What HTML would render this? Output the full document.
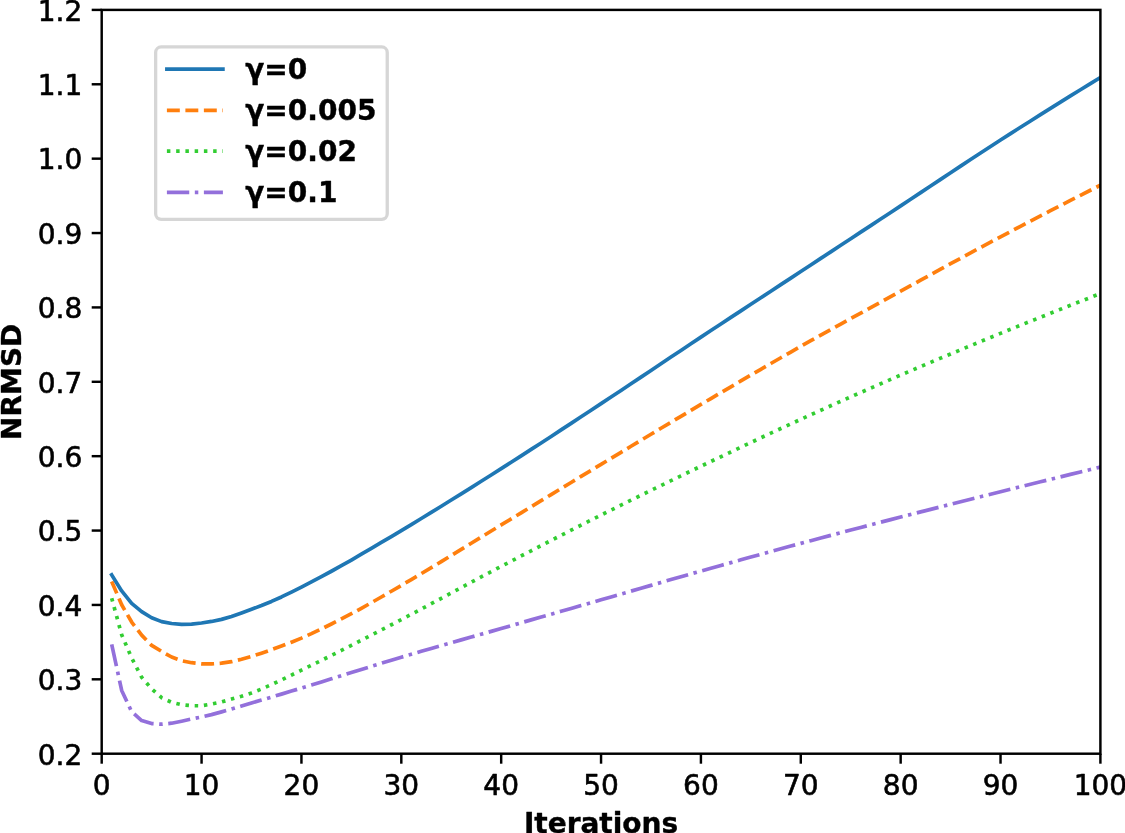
<!DOCTYPE html>
<html lang="en"><head><meta charset="utf-8"><title>NRMSD vs Iterations</title>
<style>html,body{margin:0;padding:0;background:#fff;}svg{display:block;}text{font-family:"DejaVu Sans","Liberation Sans",sans-serif;font-size:28.00px;fill:#000;stroke:#000;stroke-width:0.6px;stroke-linejoin:round;}.b{font-weight:bold;stroke-width:0.4px;}</style></head><body>
<svg width="1125" height="833" viewBox="0 0 1125 833">
<rect width="1125" height="833" fill="#fff"/>
<clipPath id="ax"><rect x="101.7" y="9.9" width="998.70" height="743.80"/></clipPath>
<g clip-path="url(#ax)" fill="none" stroke-linejoin="round">
<polyline points="111.69,581.47 121.67,604.75 131.66,622.04 141.65,635.16 151.63,645.33 161.62,651.41 171.61,657.00 181.60,660.70 191.58,662.70 201.57,663.80 211.56,663.90 221.54,663.20 231.53,661.69 241.52,659.30 251.50,656.50 261.49,653.20 271.48,649.69 281.47,646.04 291.45,642.19 301.44,638.09 311.43,633.66 321.41,628.95 331.40,624.01 341.39,618.93 351.38,613.71 361.36,608.29 371.35,602.70 381.34,597.00 391.32,591.23 401.31,585.44 411.30,579.59 421.28,573.65 431.27,567.65 441.26,561.59 451.25,555.49 461.23,549.37 471.22,543.24 481.21,537.11 491.19,531.00 501.18,524.93 511.17,518.88 521.15,512.82 531.14,506.75 541.13,500.68 551.12,494.61 561.10,488.55 571.09,482.49 581.08,476.44 591.06,470.40 601.05,464.37 611.04,458.34 621.02,452.31 631.01,446.29 641.00,440.26 650.99,434.25 660.97,428.25 670.96,422.27 680.95,416.31 690.93,410.37 700.92,404.46 710.91,398.56 720.89,392.67 730.88,386.80 740.87,380.94 750.86,375.10 760.84,369.28 770.83,363.50 780.82,357.75 790.80,352.03 800.79,346.35 810.78,340.72 820.76,335.14 830.75,329.59 840.74,324.08 850.73,318.59 860.71,313.11 870.70,307.65 880.69,302.19 890.67,296.72 900.66,291.24 910.65,285.74 920.63,280.23 930.62,274.72 940.61,269.22 950.60,263.74 960.58,258.28 970.57,252.85 980.56,247.48 990.54,242.15 1000.53,236.84 1010.52,231.56 1020.50,226.31 1030.49,221.07 1040.48,215.87 1050.46,210.68 1060.45,205.53 1070.44,200.40 1080.43,195.31 1090.41,190.24 1100.40,185.20" stroke="#ff7f0e" stroke-width="3.7" stroke-dasharray="12.930 5.591"/>
<polyline points="111.69,598.14 121.67,634.83 131.66,657.92 141.65,677.27 151.63,688.84 161.62,697.71 171.61,702.30 181.60,704.70 191.58,705.70 201.57,705.80 211.56,704.06 221.54,701.98 231.53,699.09 241.52,696.22 251.50,692.94 261.49,689.00 271.48,684.59 281.47,679.90 291.45,675.06 301.44,670.20 311.43,665.34 321.41,660.41 331.40,655.43 341.39,650.40 351.38,645.32 361.36,640.22 371.35,635.08 381.34,629.93 391.32,624.75 401.31,619.57 411.30,614.34 421.28,609.06 431.27,603.73 441.26,598.38 451.25,593.00 461.23,587.63 471.22,582.27 481.21,576.93 491.19,571.63 501.18,566.38 511.17,561.17 521.15,555.96 531.14,550.77 541.13,545.60 551.12,540.45 561.10,535.32 571.09,530.22 581.08,525.14 591.06,520.09 601.05,515.07 611.04,510.09 621.02,505.13 631.01,500.19 641.00,495.28 650.99,490.40 660.97,485.53 670.96,480.69 680.95,475.86 690.93,471.05 700.92,466.26 710.91,461.48 720.89,456.71 730.88,451.96 740.87,447.22 750.86,442.51 760.84,437.82 770.83,433.15 780.82,428.51 790.80,423.91 800.79,419.34 810.78,414.80 820.76,410.29 830.75,405.80 840.74,401.34 850.73,396.90 860.71,392.50 870.70,388.11 880.69,383.75 890.67,379.42 900.66,375.12 910.65,370.84 920.63,366.58 930.62,362.36 940.61,358.15 950.60,353.97 960.58,349.82 970.57,345.68 980.56,341.56 990.54,337.47 1000.53,333.38 1010.52,329.32 1020.50,325.27 1030.49,321.25 1040.48,317.24 1050.46,313.25 1060.45,309.28 1070.44,305.33 1080.43,301.40 1090.41,297.49 1100.40,293.60" stroke="#32cd32" stroke-width="3.7" stroke-dasharray="3.49 5.76"/>
<polyline points="111.69,644.32 121.67,690.42 131.66,711.75 141.65,720.52 151.63,723.60 161.62,724.20 171.61,723.20 181.60,721.20 191.58,719.00 201.57,717.01 211.56,714.59 221.54,711.90 231.53,709.02 241.52,706.03 251.50,703.02 261.49,700.06 271.48,697.11 281.47,694.12 291.45,691.10 301.44,688.06 311.43,685.00 321.41,681.91 331.40,678.80 341.39,675.67 351.38,672.55 361.36,669.42 371.35,666.32 381.34,663.24 391.32,660.20 401.31,657.21 411.30,654.26 421.28,651.34 431.27,648.46 441.26,645.59 451.25,642.74 461.23,639.90 471.22,637.06 481.21,634.22 491.19,631.37 501.18,628.51 511.17,625.64 521.15,622.77 531.14,619.90 541.13,617.03 551.12,614.16 561.10,611.29 571.09,608.42 581.08,605.54 591.06,602.67 601.05,599.80 611.04,596.92 621.02,594.03 631.01,591.14 641.00,588.24 650.99,585.35 660.97,582.46 670.96,579.58 680.95,576.72 690.93,573.87 700.92,571.04 710.91,568.23 720.89,565.42 730.88,562.62 740.87,559.84 750.86,557.06 760.84,554.30 770.83,551.55 780.82,548.81 790.80,546.09 800.79,543.39 810.78,540.69 820.76,538.02 830.75,535.35 840.74,532.70 850.73,530.06 860.71,527.44 870.70,524.82 880.69,522.21 890.67,519.62 900.66,517.03 910.65,514.45 920.63,511.89 930.62,509.34 940.61,506.80 950.60,504.27 960.58,501.74 970.57,499.23 980.56,496.72 990.54,494.22 1000.53,491.72 1010.52,489.22 1020.50,486.74 1030.49,484.26 1040.48,481.79 1050.46,479.32 1060.45,476.86 1070.44,474.41 1080.43,471.97 1090.41,469.53 1100.40,467.10" stroke="#9370db" stroke-width="3.7" stroke-dasharray="22.365 5.591 3.494 5.591"/>
<polyline points="111.69,574.88 121.67,590.96 131.66,603.36 141.65,611.63 151.63,617.72 161.62,621.61 171.61,623.50 181.60,624.40 191.58,624.10 201.57,623.00 211.56,621.45 221.54,619.39 231.53,616.42 241.52,612.89 251.50,609.31 261.49,605.50 271.48,601.43 281.47,596.94 291.45,592.09 301.44,587.07 311.43,581.93 321.41,576.65 331.40,571.25 341.39,565.73 351.38,560.02 361.36,554.17 371.35,548.31 381.34,542.47 391.32,536.58 401.31,530.61 411.30,524.57 421.28,518.50 431.27,512.38 441.26,506.23 451.25,500.04 461.23,493.82 471.22,487.57 481.21,481.29 491.19,474.98 501.18,468.65 511.17,462.28 521.15,455.87 531.14,449.42 541.13,442.94 551.12,436.44 561.10,429.91 571.09,423.36 581.08,416.80 591.06,410.23 601.05,403.66 611.04,397.06 621.02,390.44 631.01,383.79 641.00,377.12 650.99,370.44 660.97,363.76 670.96,357.08 680.95,350.42 690.93,343.77 700.92,337.15 710.91,330.56 720.89,323.97 730.88,317.40 740.87,310.85 750.86,304.29 760.84,297.74 770.83,291.19 780.82,284.65 790.80,278.09 800.79,271.53 810.78,264.97 820.76,258.40 830.75,251.84 840.74,245.27 850.73,238.71 860.71,232.14 870.70,225.58 880.69,219.01 890.67,212.44 900.66,205.87 910.65,199.27 920.63,192.66 930.62,186.02 940.61,179.39 950.60,172.76 960.58,166.14 970.57,159.56 980.56,153.01 990.54,146.50 1000.53,140.06 1010.52,133.66 1020.50,127.29 1030.49,120.96 1040.48,114.65 1050.46,108.38 1060.45,102.14 1070.44,95.93 1080.43,89.75 1090.41,83.61 1100.40,77.50" stroke="#1f77b4" stroke-width="3.7" stroke-linecap="square"/>
</g>
<g stroke="#000" stroke-width="2.45" fill="none">
<line x1="101.70" y1="753.7" x2="101.70" y2="763.70"/>
<line x1="201.57" y1="753.7" x2="201.57" y2="763.70"/>
<line x1="301.44" y1="753.7" x2="301.44" y2="763.70"/>
<line x1="401.31" y1="753.7" x2="401.31" y2="763.70"/>
<line x1="501.18" y1="753.7" x2="501.18" y2="763.70"/>
<line x1="601.05" y1="753.7" x2="601.05" y2="763.70"/>
<line x1="700.92" y1="753.7" x2="700.92" y2="763.70"/>
<line x1="800.79" y1="753.7" x2="800.79" y2="763.70"/>
<line x1="900.66" y1="753.7" x2="900.66" y2="763.70"/>
<line x1="1000.53" y1="753.7" x2="1000.53" y2="763.70"/>
<line x1="1100.40" y1="753.7" x2="1100.40" y2="763.70"/>
<line x1="101.7" y1="753.70" x2="91.70" y2="753.70"/>
<line x1="101.7" y1="679.32" x2="91.70" y2="679.32"/>
<line x1="101.7" y1="604.94" x2="91.70" y2="604.94"/>
<line x1="101.7" y1="530.56" x2="91.70" y2="530.56"/>
<line x1="101.7" y1="456.18" x2="91.70" y2="456.18"/>
<line x1="101.7" y1="381.80" x2="91.70" y2="381.80"/>
<line x1="101.7" y1="307.42" x2="91.70" y2="307.42"/>
<line x1="101.7" y1="233.04" x2="91.70" y2="233.04"/>
<line x1="101.7" y1="158.66" x2="91.70" y2="158.66"/>
<line x1="101.7" y1="84.28" x2="91.70" y2="84.28"/>
<line x1="101.7" y1="9.90" x2="91.70" y2="9.90"/>
<rect x="101.7" y="9.9" width="998.70" height="743.80" stroke-linejoin="miter"/>
</g>
<text x="101.70" y="795.0" text-anchor="middle">0</text>
<text x="201.57" y="795.0" text-anchor="middle">10</text>
<text x="301.44" y="795.0" text-anchor="middle">20</text>
<text x="401.31" y="795.0" text-anchor="middle">30</text>
<text x="501.18" y="795.0" text-anchor="middle">40</text>
<text x="601.05" y="795.0" text-anchor="middle">50</text>
<text x="700.92" y="795.0" text-anchor="middle">60</text>
<text x="800.79" y="795.0" text-anchor="middle">70</text>
<text x="900.66" y="795.0" text-anchor="middle">80</text>
<text x="1000.53" y="795.0" text-anchor="middle">90</text>
<text x="1100.40" y="795.0" text-anchor="middle">100</text>
<text x="82.3" y="764.50" text-anchor="end">0.2</text>
<text x="82.3" y="690.12" text-anchor="end">0.3</text>
<text x="82.3" y="615.74" text-anchor="end">0.4</text>
<text x="82.3" y="541.36" text-anchor="end">0.5</text>
<text x="82.3" y="466.98" text-anchor="end">0.6</text>
<text x="82.3" y="392.60" text-anchor="end">0.7</text>
<text x="82.3" y="318.22" text-anchor="end">0.8</text>
<text x="82.3" y="243.84" text-anchor="end">0.9</text>
<text x="82.3" y="169.46" text-anchor="end">1.0</text>
<text x="82.3" y="95.08" text-anchor="end">1.1</text>
<text x="82.3" y="20.70" text-anchor="end">1.2</text>
<text class="b" x="601.05" y="833.0" text-anchor="middle">Iterations</text>
<text class="b" transform="translate(21.0,381.80) rotate(-90) scale(1,0.98)" text-anchor="middle">NRMSD</text>
<rect x="155.64" y="46.94" width="231.6" height="172.4" rx="5.5" ry="5.5" fill="#fff" stroke="#d6d6d6" stroke-width="3.3"/>
<g fill="none" stroke-width="3.7">
<line x1="166.9" y1="69.2" x2="222.9" y2="69.2" stroke="#1f77b4" stroke-linecap="square"/>
<line x1="166.9" y1="110.3" x2="222.9" y2="110.3" stroke="#ff7f0e" stroke-dasharray="12.91 5.58"/>
<line x1="166.9" y1="151.2" x2="222.9" y2="151.2" stroke="#32cd32" stroke-dasharray="3.49 5.76"/>
<line x1="166.9" y1="192.3" x2="222.9" y2="192.3" stroke="#9370db" stroke-dasharray="22.34 5.58 3.49 5.58"/>
</g>
<text class="b" x="245.3" y="78.90">γ=0</text>
<text class="b" x="245.3" y="120.00">γ=0.005</text>
<text class="b" x="245.3" y="160.90">γ=0.02</text>
<text class="b" x="245.3" y="202.00">γ=0.1</text>
</svg></body></html>
